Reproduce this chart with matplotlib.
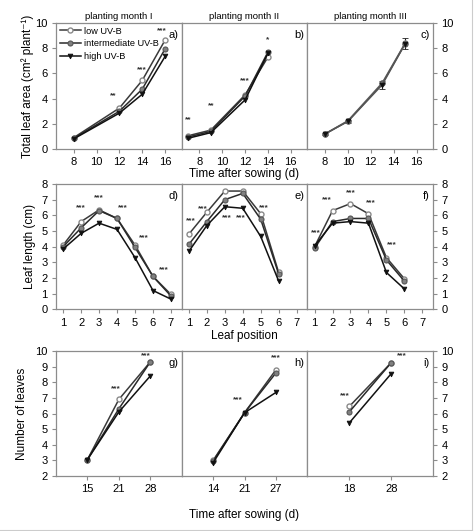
import matplotlib
matplotlib.use("Agg")
import matplotlib.pyplot as plt
from matplotlib.lines import Line2D

plt.rcParams['font.family'] = ['Liberation Sans', 'DejaVu Sans']

series = ["low UV-B", "intermediate UV-B", "high UV-B"]

# Row 1: total leaf area
area_x = {"a": [8, 12, 14, 16], "b": [7, 9, 12, 14], "c": [8, 10, 13, 15]}
area_a = [[0.9, 3.25, 5.45, 8.65], [0.85, 3.0, 4.75, 7.95], [0.8, 2.85, 4.35, 7.35]]
area_b = [[1.05, 1.5, 4.3, 7.3], [0.95, 1.4, 4.2, 7.7], [0.85, 1.3, 3.9, 7.6]]
area_c = [[1.2, 2.25, 5.25, 8.4], [1.2, 2.2, 5.2, 8.35], [1.2, 2.2, 5.1, 8.35]]
area_c_err = [0.05, 0.1, 0.3, 0.45]

# Row 2: leaf length
pos_d = [1, 2, 3, 4, 5, 6, 7]
pos_ef = [1, 2, 3, 4, 5, 6]
len_d = [[4.1, 5.6, 6.35, 5.8, 4.1, 2.1, 0.95],
         [4.0, 5.2, 6.3, 5.8, 3.95, 2.1, 0.85],
         [3.85, 4.85, 5.5, 5.1, 3.3, 1.2, 0.65]]
len_e = [[4.8, 6.2, 7.55, 7.55, 6.1, 2.35],
         [4.15, 5.6, 7.0, 7.4, 5.75, 2.25],
         [3.7, 5.35, 6.55, 6.45, 4.65, 1.8]]
len_f = [[4.0, 6.3, 6.75, 6.1, 3.3, 1.95],
         [3.9, 5.6, 5.8, 5.8, 3.15, 1.8],
         [4.05, 5.5, 5.6, 5.5, 2.35, 1.3]]

# Row 3: number of leaves (categorical time axis)
days_g = ["15", "21", "28"]
days_h = ["14", "21", "27"]
days_i = ["18", "28"]
leaves_g = [[3.05, 6.9, 9.3], [3.05, 6.3, 9.3], [3.05, 6.1, 8.4]]
leaves_h = [[3.0, 6.05, 8.8], [2.95, 6.05, 8.6], [2.85, 6.05, 7.35]]
leaves_i = [[6.45, 9.25], [6.1, 9.25], [5.4, 8.55]]

# significance stars (x, y, text)
stars_a = [(11.5, 4.2, "**"), (14, 6.3, "***"), (15.7, 9.4, "***")]
stars_b = [(7, 2.3, "**"), (9, 3.4, "**"), (12, 5.4, "***"), (14, 8.7, "*")]
stars_d = [(2, 6.5, "***"), (3, 7.1, "***"), (4.3, 6.5, "***"), (5.5, 4.6, "***"), (6.6, 2.5, "***")]
stars_e = [(1.1, 5.65, "***"), (1.8, 6.4, "***"), (3.1, 5.85, "***"), (3.9, 5.85, "***"), (5.2, 6.5, "***")]
stars_f = [(1.05, 4.9, "***"), (1.7, 7.0, "***"), (3.0, 7.45, "***"), (4.15, 6.8, "***"), (5.3, 4.15, "***")]
stars_g = [(0.9, 7.6, "***"), (1.85, 9.7, "***")]
stars_h = [(0.8, 6.9, "***"), (2.0, 9.6, "***")]
stars_i = [(-0.1, 7.15, "***"), (1.25, 9.7, "***")]

styles = [
    dict(color='#3a3a3a', marker='o', mfc='white', mec='#8a8a8a', mew=1.0, ms=3.6),
    dict(color='#2a2a2a', marker='o', mfc='#808080', mec='#555555', mew=0.8, ms=3.6),
    dict(color='#111111', marker='v', mfc='#111111', mec='#111111', mew=0.6, ms=3.4),
]

fig = plt.figure(figsize=(4.74, 5.31), dpi=100)
W, H = 474.0, 531.0
left = 56
pw = 125.7
rows = [(23, 149), (184, 309.3), (351, 476)]

axes = []
for r, (top, bot) in enumerate(rows):
    row = []
    for c in range(3):
        ax = fig.add_axes([(left + c * pw) / W, 1 - bot / H, pw / W, (bot - top) / H])
        for s in ax.spines.values():
            s.set_color('#8c8c8c')
            s.set_linewidth(0.9)
        ax.tick_params(labelsize=8, length=3, width=0.8, color='#8c8c8c', pad=3)
        if c == 0:
            ax.tick_params(axis='y', left=True, labelleft=True, right=False)
        elif c == 1:
            ax.tick_params(axis='y', left=False, labelleft=False, right=False)
        else:
            ax.tick_params(axis='y', left=False, labelleft=False, right=True, labelright=True)
        row.append(ax)
    axes.append(row)

def draw(ax, xs, data):
    for k, ys in enumerate(data):
        ax.plot(xs, ys, lw=1.1, **styles[k])

def stars(ax, lst):
    for x, y, t in lst:
        ax.text(x, y, t, ha='center', va='center', fontsize=6, color='#333333', fontweight='bold')

def letter(ax, t):
    ax.text(0.975, 0.905, t, transform=ax.transAxes, ha='right', va='center', fontsize=8)

# Row 1
a, b, c = axes[0]
hs = []
for k, ys in enumerate(area_a):
    h, = a.plot(area_x["a"], ys, lw=1.1, label=series[k], **styles[k])
    hs.append(h)
draw(b, area_x["b"], area_b)
for k, ys in enumerate(area_c):
    st = dict(styles[k])
    st['color'] = '#777777' if k == 0 else '#555555'
    c.errorbar(area_x["c"], ys, yerr=area_c_err if k == 2 else None, lw=1.1, capsize=2,
               elinewidth=0.8, ecolor='#222222', **st)
for ax in (a, b, c):
    ax.set_xlim(6.45, 17.45)
    ax.set_ylim(0, 10)
    ax.set_xticks([8, 10, 12, 14, 16])
    ax.set_yticks([0, 2, 4, 6, 8, 10])
stars(a, stars_a)
stars(b, stars_b)
letter(a, "a)"); letter(b, "b)"); letter(c, "c)")
a.legend(handles=hs, loc='upper left', fontsize=6.6, frameon=False, handlelength=2.3,
         borderaxespad=0.1, borderpad=0.3, labelspacing=0.4, handletextpad=0.35)
for ax, t in zip((a, b, c), ["planting month I", "planting month II", "planting month III"]):
    ax.set_title(t, fontsize=6.8, pad=3)
a.set_ylabel("Total leaf area (cm² plant⁻¹)", fontsize=8.5, labelpad=1)
fig.text((left + 1.5 * pw) / W, 1 - 174 / H, "Time after sowing (d)", ha='center', va='center', fontsize=8.5)

# Row 2
d, e, f = axes[1]
draw(d, pos_d, len_d)
draw(e, pos_ef, len_e)
draw(f, pos_ef, len_f)
for ax in (d, e, f):
    ax.set_xlim(0.6, 7.6)
    ax.set_ylim(0, 8)
    ax.set_xticks(pos_d)
    ax.set_yticks(range(0, 9))
stars(d, stars_d); stars(e, stars_e); stars(f, stars_f)
letter(d, "d)"); letter(e, "e)"); letter(f, "f)")
d.set_ylabel("Leaf length (cm)", fontsize=8.5, labelpad=4)
fig.text((left + 1.5 * pw) / W, 1 - 336 / H, "Leaf position", ha='center', va='center', fontsize=8.5)

# Row 3
g, h, i = axes[2]
for ax, days, data in ((g, days_g, leaves_g), (h, days_h, leaves_h), (i, days_i, leaves_i)):
    xs = list(range(len(days)))
    draw(ax, xs, data)
    ax.set_xlim(-1, len(days))
    ax.set_xticks(xs)
    ax.set_xticklabels(days)
    ax.set_ylim(2, 10)
    ax.set_yticks(range(2, 11))
stars(g, stars_g); stars(h, stars_h); stars(i, stars_i)
letter(g, "g)"); letter(h, "h)"); letter(i, "i)")
g.set_ylabel("Number of leaves", fontsize=8.5, labelpad=5)
fig.text((left + 1.5 * pw) / W, 1 - 515 / H, "Time after sowing (d)", ha='center', va='center', fontsize=8.5)

# faint outer frame at right and bottom
fig.add_artist(Line2D([471.5 / W, 471.5 / W], [1 / H, 1], transform=fig.transFigure, color='#cccccc', lw=0.8))
fig.add_artist(Line2D([0, 471.5 / W], [1.5 / H, 1.5 / H], transform=fig.transFigure, color='#cccccc', lw=0.8))

fig.savefig("out.png", dpi=100)
